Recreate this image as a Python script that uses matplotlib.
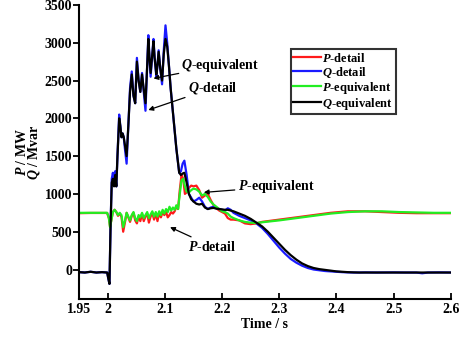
import matplotlib
matplotlib.use("Agg")
import matplotlib.pyplot as plt

plt.rcParams["font.family"] = ["Liberation Serif", "DejaVu Serif"]
plt.rcParams["font.weight"] = "bold"
plt.rcParams["axes.labelweight"] = "bold"
plt.rcParams["mathtext.fontset"] = "custom"
plt.rcParams["mathtext.it"] = "Liberation Serif:italic:bold"
plt.rcParams["mathtext.rm"] = "Liberation Serif:bold"

# --- Q curves (reactive power) ---------------------------------------------
t_q = [1.95, 1.96, 1.97, 1.98, 1.99, 1.999, 2.001, 2.003, 2.005, 2.007, 2.009,
       2.011, 2.013, 2.015, 2.017, 2.020, 2.022, 2.024, 2.026, 2.028, 2.030,
       2.033, 2.036, 2.039, 2.042, 2.045, 2.048, 2.051, 2.054, 2.057, 2.060,
       2.063, 2.066, 2.069, 2.071, 2.073, 2.075, 2.078, 2.080, 2.082, 2.085,
       2.087, 2.089, 2.092, 2.095, 2.098, 2.101, 2.104, 2.107, 2.110, 2.115,
       2.120, 2.125, 2.128, 2.131, 2.134, 2.138, 2.142, 2.146, 2.150, 2.155,
       2.160, 2.165, 2.170, 2.175, 2.180, 2.185, 2.190, 2.195, 2.200, 2.205,
       2.210, 2.215, 2.220, 2.230, 2.240, 2.250, 2.260, 2.270, 2.280, 2.290,
       2.300, 2.310, 2.320, 2.330, 2.340, 2.350, 2.360, 2.370, 2.380, 2.390,
       2.400, 2.410, 2.420, 2.430, 2.440, 2.450, 2.470, 2.500, 2.520, 2.540,
       2.550, 2.560, 2.580, 2.600]
q_detail = [-35, -40, -30, -40, -35, -40, -120, -190, 600, 1200, 1280,
            1150, 1300, 1100, 1500, 2050, 1900, 1750, 1800, 1750, 1600,
            1400, 1900, 2400, 2620, 2300, 2200, 2800, 2500, 2350, 2600,
            2350, 2100, 2700, 3100, 2800, 2550, 2850, 3050, 2800, 2550,
            2700, 2900, 2650, 2450, 2900, 3230, 3000, 2700, 2400, 2000,
            1600, 1280, 1300, 1400, 1440, 1250, 1000, 950, 900, 920,
            950, 900, 830, 800, 820, 830, 810, 800, 790, 780,
            810, 790, 750, 710, 680, 650, 610, 550, 470, 380,
            290, 210, 140, 90, 50, 20, 0, -10, -20, -25,
            -30, -35, -38, -40, -40, -38, -40, -38, -40, -40,
            -50, -40, -38, -40]
q_equiv = [-35, -40, -30, -40, -35, -40, -120, -190, 600, 1150, 1200,
           1100, 1250, 1100, 1500, 2000, 1900, 1750, 1800, 1750, 1650,
           1500, 1900, 2350, 2580, 2300, 2200, 2750, 2500, 2350, 2580,
           2380, 2200, 2700, 3050, 2800, 2600, 2850, 3020, 2800, 2580,
           2700, 2880, 2650, 2500, 2850, 3050, 2950, 2700, 2400, 2000,
           1600, 1280, 1250, 1270, 1280, 1150, 1000, 930, 900, 870,
           860, 870, 820, 800, 810, 815, 805, 800, 795, 790,
           790, 780, 770, 740, 710, 670, 620, 570, 500, 420,
           340, 260, 190, 130, 80, 45, 20, 5, -5, -15,
           -25, -30, -35, -38, -40, -40, -40, -40, -40, -40,
           -40, -40, -40, -40]

# --- P curves (active power) -----------------------------------------------
t_p = [1.95, 1.97, 1.99, 1.999, 2.002, 2.004, 2.006, 2.009, 2.012, 2.015,
       2.018, 2.021, 2.024, 2.027, 2.030, 2.033, 2.036, 2.039, 2.042, 2.045,
       2.048, 2.051, 2.054, 2.057, 2.060, 2.063, 2.066, 2.069, 2.072, 2.075,
       2.078, 2.081, 2.084, 2.087, 2.090, 2.093, 2.096, 2.099, 2.102, 2.105,
       2.108, 2.111, 2.114, 2.117, 2.120, 2.123, 2.126, 2.129, 2.132, 2.135,
       2.138, 2.142, 2.146, 2.150, 2.155, 2.160, 2.165, 2.170, 2.175, 2.180,
       2.185, 2.190, 2.195, 2.200, 2.205, 2.210, 2.215, 2.220, 2.230, 2.240,
       2.250, 2.260, 2.270, 2.300, 2.330, 2.360, 2.390, 2.420, 2.450, 2.480,
       2.510, 2.540, 2.570, 2.600]
p_detail = [745, 748, 748, 748, 680, 570, 640, 760, 790, 760,
            710, 740, 700, 500, 620, 750, 690, 630, 710, 750,
            650, 610, 700, 640, 740, 640, 700, 740, 620, 700,
            750, 660, 740, 640, 750, 690, 760, 720, 760, 690,
            720, 760, 740, 770, 830, 800, 1050, 1250, 1200, 1000,
            1020, 1080, 1110, 1100, 1110, 1050, 950, 980, 1000, 920,
            850, 810, 780, 760, 740, 680, 660, 660, 650, 610,
            600, 610, 630, 660, 690, 720, 750, 770, 770, 760,
            750, 745, 745, 745]
p_equiv = [750, 750, 750, 750, 680, 560, 640, 760, 790, 760,
           720, 750, 720, 560, 640, 750, 700, 650, 720, 760,
           680, 640, 720, 690, 750, 680, 720, 760, 680, 730,
           770, 700, 760, 700, 770, 720, 790, 740, 800, 760,
           830, 780, 820, 790, 850, 800, 1000, 1180, 1200, 1100,
           1030, 1020, 1050, 1070, 1060, 1030, 980, 1000, 960, 900,
           860, 830, 800, 770, 760, 740, 700, 680, 650, 630,
           620, 615, 625, 650, 680, 710, 740, 760, 770, 770,
           760, 755, 750, 750]

x_ticks = [1.95, 2.0, 2.1, 2.2, 2.3, 2.4, 2.5, 2.6]
x_tick_labels = ["1.95", "2", "2.1", "2.2", "2.3", "2.4", "2.5", "2.6"]
y_ticks = [0, 500, 1000, 1500, 2000, 2500, 3000, 3500]
y_tick_labels = [str(v) for v in y_ticks]

fig = plt.figure(figsize=(4.74, 3.53), dpi=100)
ax = fig.add_axes([0.167, 0.153, 0.784, 0.833])

ax.plot(t_p, p_detail, color="#ff1a1a", lw=1.6, label="$P$-detail")
ax.plot(t_q, q_detail, color="#1a1aff", lw=1.6, label="$Q$-detail")
ax.plot(t_p, p_equiv, color="#22ee22", lw=1.6, label="$P$-equivalent")
ax.plot(t_q, q_equiv, color="black", lw=1.6, label="$Q$-equivalent")

ax.set_xlim(1.95, 2.6)
ax.set_ylim(-390, 3500)
ax.set_xticks(x_ticks)
ax.set_xticklabels(x_tick_labels, fontweight="bold", fontsize=10)
ax.set_yticks(y_ticks)
ax.set_yticklabels(y_tick_labels, fontweight="bold", fontsize=10)
for s in ("top", "right"):
    ax.spines[s].set_visible(False)
for s in ("left", "bottom"):
    ax.spines[s].set_linewidth(1.5)
ax.tick_params(axis="x", direction="in", length=4, width=1.3, pad=3)
ax.tick_params(axis="y", direction="out", length=4, width=1.3, pad=1)

ax.set_xlabel("Time / s", fontsize=10, labelpad=1)
ax.set_ylabel("$P$ / MW\n$Q$ / Mvar", fontsize=10, linespacing=0.75, labelpad=2)

arrow = dict(arrowstyle="-|>", color="black", lw=0.9, mutation_scale=7,
             shrinkA=0, shrinkB=0)
ax.annotate("$Q$-equivalent", xy=(2.080, 2528), xytext=(2.129, 2704),
            fontsize=10, va="center", arrowprops=arrow)
ax.annotate("$Q$-detail", xy=(2.071, 2110), xytext=(2.140, 2400),
            fontsize=10, va="center", arrowprops=arrow)
ax.annotate("$P$-equivalent", xy=(2.168, 1020), xytext=(2.227, 1095),
            fontsize=10, va="center", arrowprops=arrow)
ax.annotate("$P$-detail", xy=(2.109, 560), xytext=(2.141, 303),
            fontsize=10, va="center", arrowprops=arrow)

leg = ax.legend(loc="upper left", bbox_to_anchor=(0.569, 0.85), fontsize=9,
                frameon=True, fancybox=False, edgecolor="black",
                handlelength=2.2, handletextpad=0.15, labelspacing=0.0,
                borderpad=0.2, borderaxespad=0)
leg.get_frame().set_linewidth(1.5)

fig.savefig("out.png", dpi=100)
